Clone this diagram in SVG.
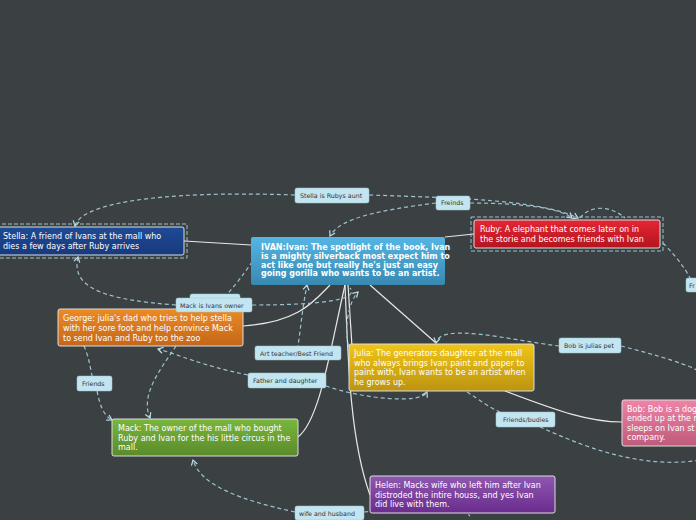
<svg xmlns="http://www.w3.org/2000/svg" width="696" height="520" viewBox="0 0 696 520">
<defs>
<style>
.n text,.l text{font-family:"DejaVu Sans",sans-serif}
.n text{fill:#fff;font-size:8px}
.l rect{fill:#c3e4f1;stroke:#9cc;stroke-width:0.5}
.l text{fill:#333;font-size:6.3px}
.s{fill:none;stroke:#e8e8e8;stroke-width:1.2}
.d{fill:none;stroke:#9cc3cf;stroke-width:1.2;stroke-dasharray:4 3}
.box{stroke:#ddd;stroke-width:1}
</style>
<marker id="a" markerWidth="8" markerHeight="8" refX="6" refY="4" orient="auto" markerUnits="userSpaceOnUse"><path d="M1,1 L6,4 L1,7" fill="none" stroke="#bde0ec" stroke-width="1.2"/></marker>
<linearGradient id="gb" x1="0" y1="0" x2="0" y2="1"><stop offset="0" stop-color="#55b6e3"/><stop offset="1" stop-color="#3889b1"/></linearGradient>
<linearGradient id="gs" x1="0" y1="0" x2="0" y2="1"><stop offset="0" stop-color="#1f4a96"/><stop offset="1" stop-color="#173a7c"/></linearGradient>
<linearGradient id="gr" x1="0" y1="0" x2="0" y2="1"><stop offset="0" stop-color="#e42634"/><stop offset="1" stop-color="#b4141f"/></linearGradient>
<linearGradient id="go" x1="0" y1="0" x2="0" y2="1"><stop offset="0" stop-color="#ec8a25"/><stop offset="1" stop-color="#c4661a"/></linearGradient>
<linearGradient id="gy" x1="0" y1="0" x2="0" y2="1"><stop offset="0" stop-color="#f0c518"/><stop offset="1" stop-color="#bc9410"/></linearGradient>
<linearGradient id="gg" x1="0" y1="0" x2="0" y2="1"><stop offset="0" stop-color="#7ab73d"/><stop offset="1" stop-color="#5a8a2a"/></linearGradient>
<linearGradient id="gp" x1="0" y1="0" x2="0" y2="1"><stop offset="0" stop-color="#ee84a6"/><stop offset="1" stop-color="#bf5a7a"/></linearGradient>
<linearGradient id="gv" x1="0" y1="0" x2="0" y2="1"><stop offset="0" stop-color="#8e58b0"/><stop offset="1" stop-color="#6a2c8e"/></linearGradient>
</defs>
<rect width="696" height="520" fill="#3b4042"/>
<g id="connectors">
<path class="s" d="M184,241 L251,245"/>
<path class="s" d="M445,237 L474,234"/>
<path class="s" d="M243,326 C300,322 315,300 330,285"/>
<path class="s" d="M298,437 C320,420 330,350 345,285"/>
<path class="s" d="M348,285 L352,346"/>
<path class="s" d="M345,285 C348,360 350,440 370,495"/>
<path class="s" d="M370,285 L436,343"/>
<path class="s" d="M505,391 C560,412 590,422 622,422"/>
<path class="d" d="M295,195 C150,190 80,205 75,226" marker-end="url(#a)"/>
<path class="d" d="M369,195 C460,198 540,200 578,218" marker-end="url(#a)"/>
<path class="d" d="M436,203 C380,210 340,218 330,236" marker-end="url(#a)"/>
<path class="d" d="M470,203 C520,203 560,208 572,218" marker-end="url(#a)"/>
<path class="d" d="M580,218 C590,205 610,205 625,218"/>
<path class="d" d="M663,243 C675,255 685,268 690,278"/>
<path class="d" d="M176,305 C110,300 70,290 78,257" marker-end="url(#a)"/>
<path class="d" d="M252,305 C320,305 360,300 350,288"/>
<path class="d" d="M224,298 C240,280 250,265 252,262"/>
<path class="d" d="M84,346 C88,355 90,365 92,376" marker-start="url(#a)"/>
<path class="d" d="M97,391 C100,405 103,415 112,420" marker-end="url(#a)"/>
<path class="d" d="M176,346 C160,370 140,395 150,418" marker-end="url(#a)"/>
<path class="d" d="M295,356 C300,345 300,320 307,285" marker-end="url(#a)"/>
<path class="d" d="M248,375 C200,365 180,355 158,349" marker-end="url(#a)"/>
<path class="d" d="M326,386 C360,398 420,405 427,392" marker-end="url(#a)"/>
<path class="d" d="M353,360 C340,330 350,300 358,292" marker-end="url(#a)"/>
<path class="d" d="M559,346 C510,340 440,322 436,343" marker-end="url(#a)"/>
<path class="d" d="M621,346 C660,356 690,365 700,372"/>
<path class="d" d="M467,392 C480,400 490,408 500,412"/>
<path class="d" d="M540,427 C580,445 640,470 700,460"/>
<path class="d" d="M295,512 C240,500 200,485 193,460" marker-end="url(#a)"/>
<path class="d" d="M364,512 C420,508 460,505 470,516"/>
</g>
<g id="stella" class="n"><rect x="-4" y="224" width="191" height="34" fill="none" stroke="#9cc3cf" stroke-dasharray="4 2"/><rect class="box" x="-2" y="227" width="186" height="28" rx="2" fill="url(#gs)"/><text x="3" y="239">Stella: A friend of Ivans at the mall who</text><text x="3" y="249">dies a few days after Ruby arrives</text></g>
<g id="ivan" class="n"><rect x="251" y="237" width="194" height="48" rx="2" fill="url(#gb)"/><text font-weight="bold" font-size="6.2"><tspan x="261" y="250">IVAN:Ivan: The spotlight of the book, Ivan</tspan><tspan x="261" y="259">is a mighty silverback most expect him to</tspan><tspan x="261" y="268">act like one but really he's just an easy</tspan><tspan x="261" y="276">going gorilla who wants to be an artist.</tspan></text></g>
<g id="ruby" class="n"><rect x="471" y="217" width="192" height="34" fill="none" stroke="#9cc3cf" stroke-dasharray="4 2"/><rect class="box" x="474" y="220" width="186" height="28" rx="2" fill="url(#gr)"/><text x="480" y="232">Ruby: A elephant that comes later on in</text><text x="480" y="242">the storie and becomes friends with Ivan</text></g>
<g id="george" class="n"><rect class="box" x="58" y="309" width="185" height="37" rx="2" fill="url(#go)"/><text x="63" y="321">George: julia's dad who tries to help stella</text><text x="63" y="331">with her sore foot and help convince Mack</text><text x="63" y="341">to send Ivan and Ruby too the zoo</text></g>
<g id="julia" class="n"><rect class="box" x="349" y="344" width="185" height="47" rx="2" fill="url(#gy)"/><text x="354" y="356">Julia: The generators daughter at the mall</text><text x="354" y="366">who always brings Ivan paint and paper to</text><text x="354" y="375">paint with, Ivan wants to be an artist when</text><text x="354" y="385">he grows up.</text></g>
<g id="mack" class="n"><rect class="box" x="112" y="419" width="186" height="37" rx="2" fill="url(#gg)"/><text x="118" y="431">Mack: The owner of the mall who bought</text><text x="118" y="441">Ruby and Ivan for the his little circus in the</text><text x="118" y="450">mall.</text></g>
<g id="bob" class="n"><rect class="box" x="622" y="400" width="80" height="46" rx="2" fill="url(#gp)"/><text x="627" y="412">Bob: Bob is a dog</text><text x="627" y="421">ended up at the m</text><text x="627" y="431">sleeps on Ivan st</text><text x="627" y="440">company.</text></g>
<g id="helen" class="n"><rect class="box" x="370" y="476" width="185" height="37" rx="2" fill="url(#gv)"/><text x="375" y="488">Helen: Macks wife who left him after Ivan</text><text x="375" y="498">distroded the intire houss, and yes Ivan</text><text x="375" y="507">did live with them.</text></g>
<g id="labels" class="l">
<g><rect x="295" y="188" width="74" height="15" rx="2"/><text x="300" y="198">Stella is Rubys aunt</text></g>
<g><rect x="436" y="196" width="34" height="14" rx="2"/><text x="441" y="205">Freinds</text></g>
<g><rect x="686" y="278" width="14" height="14" rx="2"/><text x="689" y="288">Fr</text></g>
<g><rect x="190" y="294" width="50" height="8" rx="2"/></g>
<g><rect x="176" y="298" width="76" height="14" rx="2"/><text x="180" y="308">Mack is Ivans owner</text></g>
<g><rect x="255" y="346" width="86" height="14" rx="2"/><text x="260" y="356">Art teacher/Best Friend</text></g>
<g><rect x="248" y="373" width="78" height="15" rx="2"/><text x="253" y="383">Father and daughter</text></g>
<g><rect x="77" y="376" width="35" height="15" rx="2"/><text x="82" y="386">Friends</text></g>
<g><rect x="559" y="338" width="62" height="15" rx="2"/><text x="564" y="348">Bob is julias pet</text></g>
<g><rect x="496" y="412" width="59" height="15" rx="2"/><text x="503" y="422">Friends/budies</text></g>
<g><rect x="295" y="506" width="69" height="14" rx="2"/><text x="299" y="516">wife and husband</text></g>
</g>
</svg>
